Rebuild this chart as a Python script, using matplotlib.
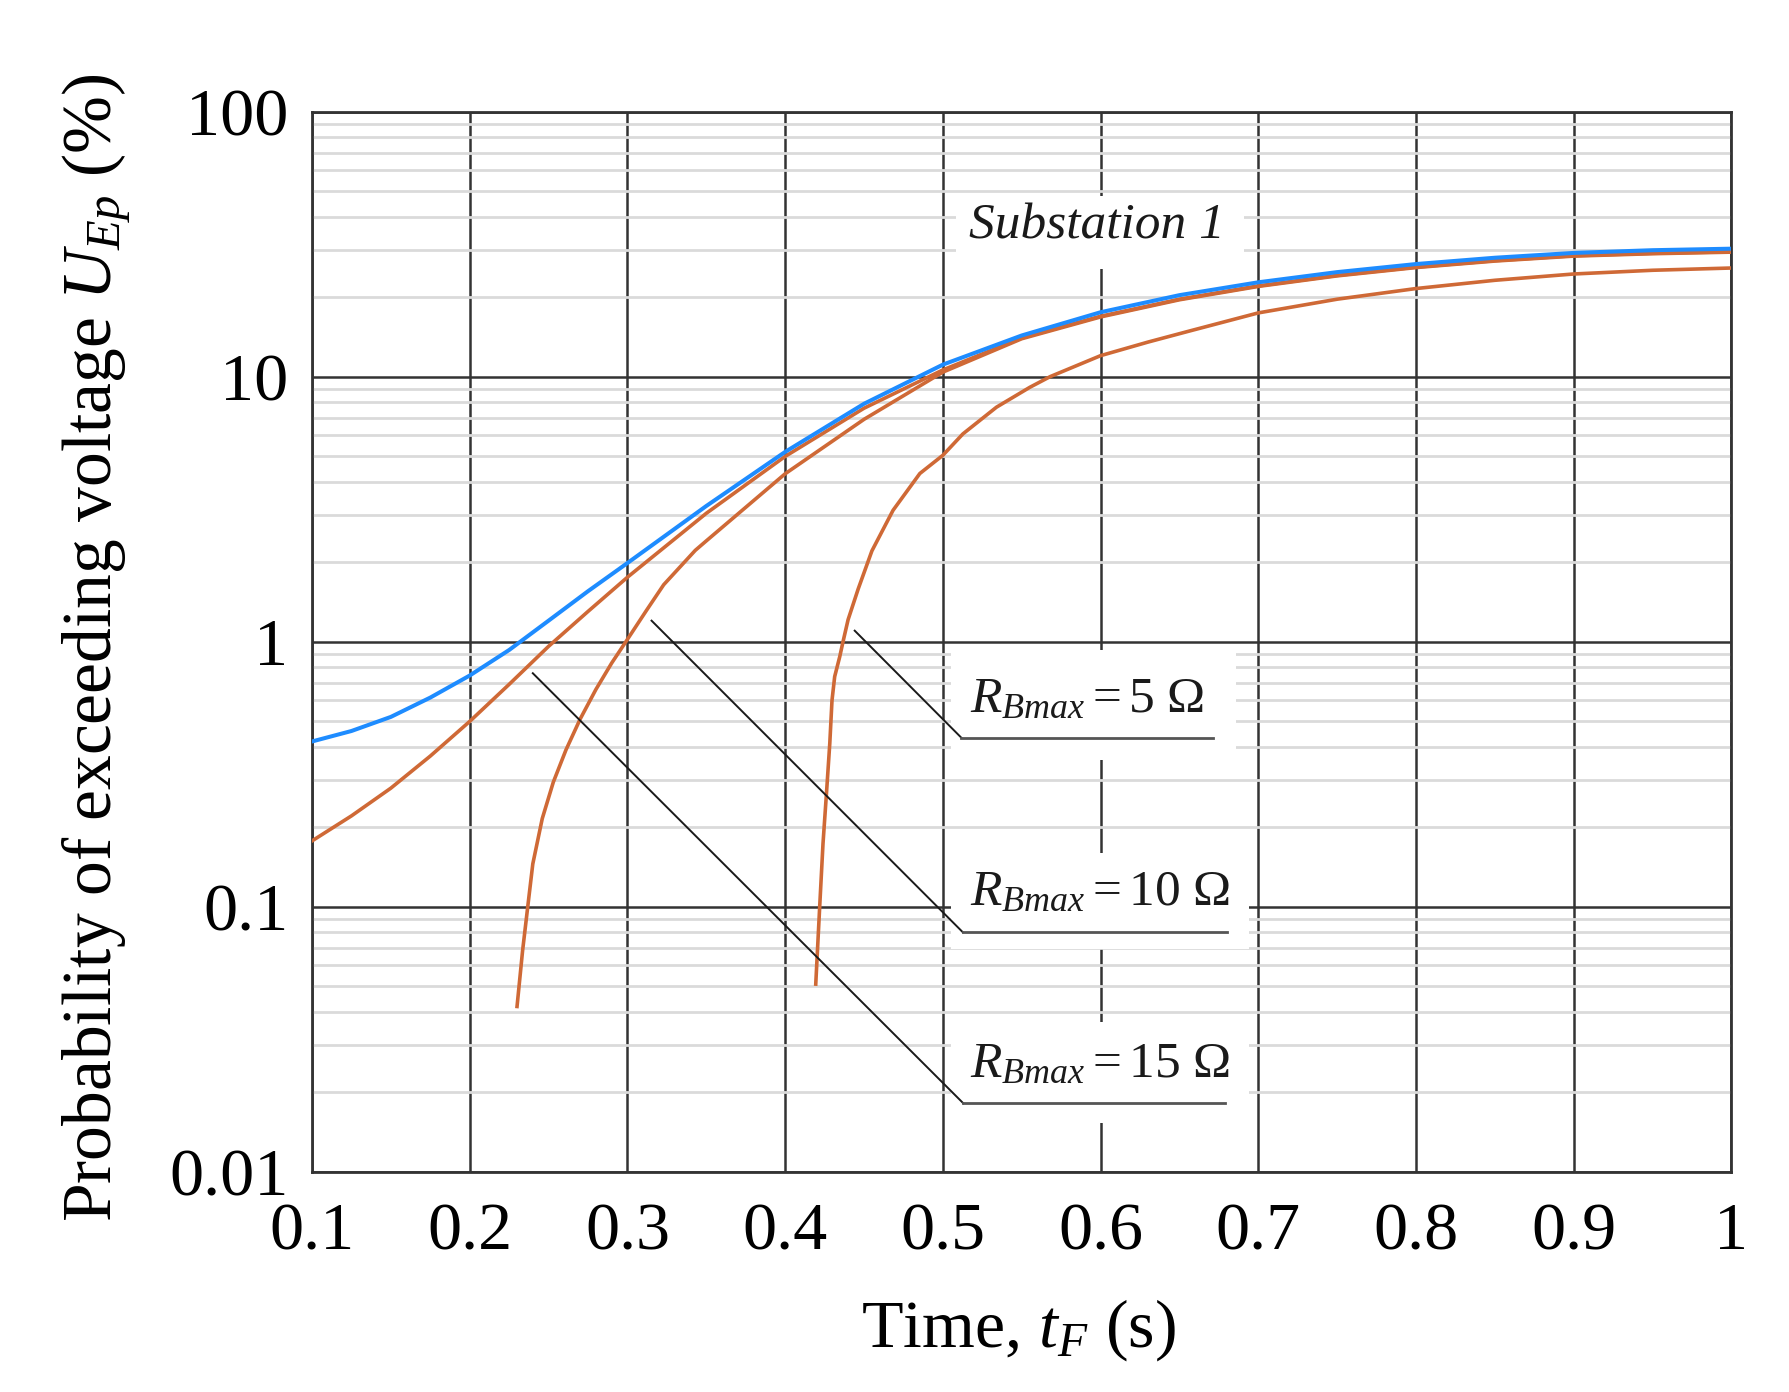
import matplotlib
matplotlib.use('Agg')
import matplotlib.pyplot as plt
from matplotlib.patches import Rectangle
from matplotlib.ticker import FixedLocator, FixedFormatter, LogLocator, NullFormatter

plt.rcParams['font.family'] = ['Liberation Serif', 'DejaVu Serif']
plt.rcParams['mathtext.fontset'] = 'custom'
plt.rcParams['mathtext.rm'] = 'Liberation Serif'
plt.rcParams['mathtext.it'] = 'Liberation Serif:italic'
plt.rcParams['mathtext.bf'] = 'Liberation Serif:bold'

# ---------------- data ----------------
t_blue = [0.100, 0.125, 0.150, 0.175, 0.200, 0.225, 0.250, 0.275, 0.300, 0.350,
          0.400, 0.450, 0.500, 0.550, 0.600, 0.650, 0.700, 0.750, 0.800, 0.850,
          0.900, 0.950, 1.000]
p_blue = [0.42, 0.46, 0.52, 0.615, 0.745, 0.93, 1.20, 1.55, 1.98, 3.25,
          5.2, 7.9, 11.1, 14.3, 17.5, 20.3, 22.7, 24.8, 26.6, 28.1,
          29.3, 30.0, 30.4]

t_r15 = [0.100, 0.125, 0.150, 0.175, 0.200, 0.225, 0.250, 0.275, 0.300, 0.350,
         0.400, 0.450, 0.500, 0.550, 0.600, 0.650, 0.700, 0.750, 0.800, 0.850,
         0.900, 0.950, 1.000]
p_r15 = [0.177, 0.22, 0.28, 0.37, 0.50, 0.69, 0.96, 1.30, 1.75, 3.05,
         5.0, 7.6, 10.6, 14.0, 16.9, 19.6, 22.0, 24.1, 25.9, 27.4,
         28.6, 29.2, 29.6]

t_r10 = [0.2300, 0.2335, 0.2368, 0.2400, 0.2460, 0.2530, 0.2610, 0.2700, 0.2800,
         0.2900, 0.3000, 0.3120, 0.3230, 0.3430, 0.3500, 0.4000, 0.4500, 0.5000,
         0.5500, 0.6000, 0.6500, 0.7000, 0.7500, 0.8000, 0.8500, 0.9000, 0.9500,
         1.0000]
p_r10 = [0.042, 0.068, 0.100, 0.145, 0.215, 0.295, 0.39, 0.51, 0.66,
         0.83, 1.02, 1.31, 1.64, 2.21, 2.40, 4.3, 6.9, 10.4,
         13.9, 16.8, 19.5, 21.9, 24.0, 25.8, 27.3, 28.5, 29.1,
         29.5]

t_r5 = [0.4194, 0.4219, 0.4240, 0.4262, 0.4283, 0.4297, 0.4314, 0.4346, 0.4367,
        0.4399, 0.4463, 0.4550, 0.4684, 0.4854, 0.5000, 0.5127, 0.5340, 0.5552,
        0.5680, 0.6000, 0.6300, 0.6570, 0.7000, 0.7500, 0.8000, 0.8500, 0.9000,
        0.9500, 1.0000]
p_r5 = [0.051, 0.100, 0.173, 0.268, 0.413, 0.60, 0.738, 0.877, 1.00,
        1.21, 1.58, 2.20, 3.13, 4.31, 5.05, 6.08, 7.67, 9.12,
        10.0, 12.0, 13.5, 14.9, 17.4, 19.6, 21.5, 23.1, 24.4,
        25.2, 25.7]

x_ticks = [0.1, 0.2, 0.3, 0.4, 0.5, 0.6, 0.7, 0.8, 0.9, 1.0]
x_tick_labels = ['0.1', '0.2', '0.3', '0.4', '0.5', '0.6', '0.7', '0.8', '0.9', '1']
y_ticks = [0.01, 0.1, 1, 10, 100]
y_tick_labels = ['0.01', '0.1', '1', '10', '100']

label_texts = [r'$R_{Bmax} = \mathit{5}\ \Omega$',
               r'$R_{Bmax} = \mathit{10}\ \Omega$',
               r'$R_{Bmax} = \mathit{15}\ \Omega$']

# ---------------- styling / annotation geometry ----------------
BLUE = '#1e8cff'
ORANGE = '#cf6936'
GRID_MAJOR = '#333333'
GRID_MINOR = '#dadada'

# leader: (start x, start y, elbow x, elbow y, end x)
leaders = [(0.4441, 1.10, 0.5117, 0.434, 0.671),
           (0.3153, 1.20, 0.5127, 0.080, 0.680),
           (0.2400, 0.76, 0.5130, 0.0181, 0.679)]
label_pos = [(0.5175, 0.54), (0.5175, 0.1015), (0.5175, 0.0228)]
boxes = [(0.5053, 0.6858, 0.358, 0.93),
         (0.5053, 0.6943, 0.0695, 0.160),
         (0.5053, 0.6943, 0.0152, 0.0367)]
sub_box = (0.5085, 0.6907, 25.4, 48.0)

fig = plt.figure(figsize=(17.9, 13.92), dpi=100)
ax = fig.add_axes([0.1743, 0.1583, 0.9673 - 0.1743, 0.9198 - 0.1583])

ax.set_yscale('log')
ax.set_xlim(0.1, 1.0)
ax.set_ylim(0.01, 100)

ax.xaxis.set_major_locator(FixedLocator(x_ticks))
ax.xaxis.set_major_formatter(FixedFormatter(x_tick_labels))
ax.yaxis.set_major_locator(FixedLocator(y_ticks))
ax.yaxis.set_major_formatter(FixedFormatter(y_tick_labels))
ax.yaxis.set_minor_locator(LogLocator(base=10, subs=[2, 3, 4, 5, 6, 7, 8, 9], numticks=20))
ax.yaxis.set_minor_formatter(NullFormatter())

ax.set_axisbelow(True)
ax.grid(True, which='minor', axis='y', color=GRID_MINOR, lw=2.0)
ax.grid(True, which='major', axis='both', color=GRID_MAJOR, lw=1.8)

ax.tick_params(axis='both', which='both', length=0)
ax.tick_params(axis='x', labelsize=49, pad=22)
ax.tick_params(axis='y', labelsize=49, pad=17)
for s in ax.spines.values():
    s.set_color('#333333')
    s.set_linewidth(2.0)

# white label boxes covering grid
for (x0, x1, y0, y1) in boxes + [sub_box]:
    ax.add_patch(Rectangle((x0, y0), x1 - x0, y1 - y0, facecolor='white',
                           edgecolor='none', zorder=1.5))

# curves
ax.plot(t_r10, p_r10, color=ORANGE, lw=2.6, zorder=3, solid_joinstyle='round')
ax.plot(t_r15, p_r15, color=ORANGE, lw=2.6, zorder=3, solid_joinstyle='round')
ax.plot(t_r5, p_r5, color=ORANGE, lw=2.6, zorder=3, solid_joinstyle='round')
ax.plot(t_blue, p_blue, color=BLUE, lw=2.9, zorder=3.5, solid_joinstyle='round')

# leaders and labels
for (xs, ys, xe, ye, xend), txt, (tx, ty) in zip(leaders, label_texts, label_pos):
    ax.plot([xs, xe], [ys, ye], color='#1a1a1a', lw=1.4, zorder=4)
    ax.plot([xe, xend], [ye, ye], color='#555555', lw=2.0, zorder=4)
    ax.text(tx, ty, txt, fontsize=37, ha='left', va='baseline', color='#1a1a1a', zorder=5)

ax.text(0.5975, 37, 'Substation 1', fontsize=37, style='italic', ha='center',
        va='center', color='#1a1a1a', zorder=5)

fig.text(0.569, 0.0328, 'Time, $t_F$ (s)', fontsize=49, ha='center', va='baseline')
fig.text(0.054, 0.535, 'Probability of exceeding voltage $U_{Ep}$ (%)', fontsize=50,
         ha='center', va='center', rotation=90)

fig.savefig('out.png', dpi=100, facecolor='white')
